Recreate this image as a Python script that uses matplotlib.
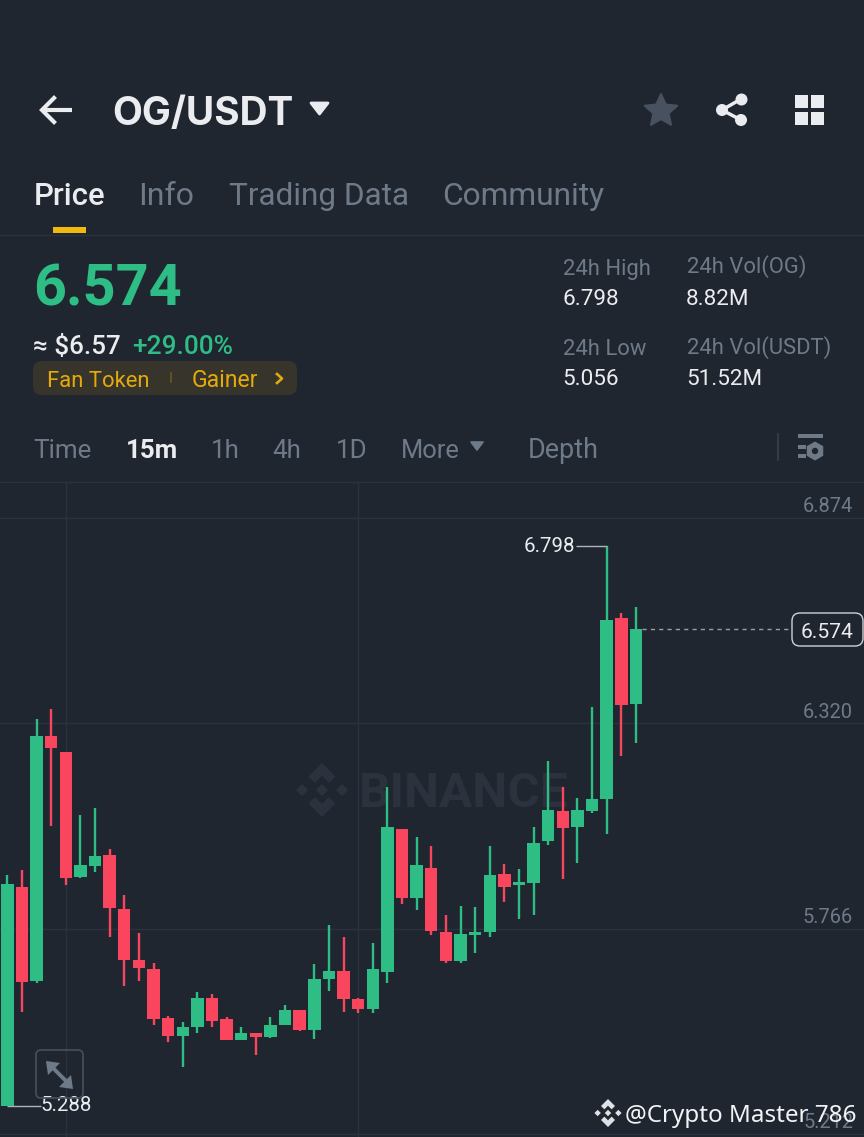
import matplotlib
matplotlib.use("Agg")
import matplotlib.pyplot as plt
from matplotlib.patches import FancyBboxPatch, Polygon, Circle, Rectangle
import numpy as np

# candle values (15m OG/USDT)
opens = [5.288, 5.879, 5.625, 6.286, 6.243, 5.905, 5.935, 5.965, 5.819, 5.681, 5.657, 5.524, 5.476, 5.500, 5.578, 5.522,
         5.466, 5.485, 5.474, 5.507, 5.546, 5.493, 5.629, 5.653, 5.575, 5.549, 5.650, 6.036, 5.848, 5.929, 5.757, 5.680,
         5.748, 5.756, 5.914, 5.883, 5.890, 6.003, 6.083, 6.040, 6.083, 6.116, 6.603, 6.371]
closes = [5.886, 5.621, 6.286, 6.253, 5.903, 5.937, 5.961, 5.821, 5.681, 5.659, 5.521, 5.476, 5.502, 5.578, 5.517, 5.466,
          5.485, 5.474, 5.506, 5.546, 5.493, 5.631, 5.653, 5.575, 5.549, 5.657, 6.040, 5.850, 5.938, 5.760, 5.680, 5.752,
          5.757, 5.910, 5.878, 5.891, 5.997, 6.087, 6.038, 6.087, 6.116, 6.599, 6.370, 6.574]
highs = [5.911, 5.924, 6.331, 6.359, 6.243, 6.073, 6.092, 5.981, 5.856, 5.754, 5.673, 5.530, 5.514, 5.594, 5.589, 5.527,
         5.502, 5.485, 5.528, 5.560, 5.547, 5.671, 5.777, 5.744, 5.578, 5.727, 6.149, 6.036, 6.012, 5.989, 5.803, 5.827,
         5.825, 5.989, 5.940, 5.926, 6.040, 6.218, 6.149, 6.119, 6.363, 6.798, 6.618, 6.634]
lows = [5.288, 5.542, 5.620, 6.043, 5.884, 5.903, 5.919, 5.743, 5.612, 5.624, 5.507, 5.461, 5.394, 5.484, 5.502, 5.465,
        5.466, 5.425, 5.471, 5.507, 5.489, 5.468, 5.599, 5.542, 5.539, 5.538, 5.619, 5.832, 5.816, 5.750, 5.674, 5.674,
        5.700, 5.743, 5.839, 5.791, 5.803, 5.993, 5.899, 5.942, 6.077, 6.021, 6.233, 6.268]
price_ticks = [6.874, 6.320, 5.766, 5.212]
time_grid = [4, 24]
last_price = 6.574

BG = "#1f2630"
GRID = "#2b323d"
GREEN = "#2ebd85"
RED = "#f9455e"
WHITE = "#eaecef"
GRAY = "#6f7a89"
YELLOW = "#e3aa0c"
FONT = "Roboto"


def fs(px):
    return px * 0.72


def logo(ax, cx, cy, s, color):
    top = np.array([(0, 1), (.5, .5), (.26, .26), (0, .52), (-.26, .26), (-.5, .5)])
    for sign in (1, -1):
        ax.add_patch(Polygon(np.c_[cx + top[:, 0] * s, cy - sign * top[:, 1] * s], color=color, lw=0))
    for dx in (-.74, 0, .74):
        pts = np.array([(dx - .23, 0), (dx, .23), (dx + .23, 0), (dx, -.23)])
        ax.add_patch(Polygon(np.c_[cx + pts[:, 0] * s, cy + pts[:, 1] * s], color=color, lw=0))


fig = plt.figure(figsize=(8.64, 11.37), dpi=100, facecolor=BG)

# --- app UI, in pixel coordinates ---
ui = fig.add_axes([0, 0, 1, 1])
ui.set_xlim(0, 864)
ui.set_ylim(1137, 0)
ui.axis("off")


def label(x, y, s, size, color=GRAY, weight="normal", ha="left", family=FONT):
    ui.text(x, y, s, fontsize=fs(size), color=color, fontweight=weight, ha=ha, va="baseline", family=family)


# header
ui.plot([43, 72], [110, 110], color=WHITE, lw=3, solid_capstyle="butt")
ui.plot([54, 42, 54], [98, 110, 122], color=WHITE, lw=3, solid_joinstyle="miter")
label(112, 125, "OG/USDT", 38.8, WHITE, "bold", family="Inter")
ui.add_patch(Polygon([(311, 103), (328, 103), (319.5, 114)], closed=True, fc=WHITE, ec=WHITE, lw=2, joinstyle="round"))

angles = np.pi / 2 + np.arange(10) * np.pi / 5
radii = np.where(np.arange(10) % 2 == 0, 17, 8)
ui.add_patch(Polygon(np.c_[661 + radii * np.cos(angles), 111 - radii * np.sin(angles)], color="#48515f", lw=1.5, joinstyle="round"))

ui.plot([741, 722, 741], [99, 110, 120], color=WHITE, lw=2.5)
for cx, cy in [(741.5, 99.5), (722, 110), (741, 120)]:
    ui.add_patch(Circle((cx, cy), 6, color=WHITE, lw=0))
for x0 in (794.5, 811):
    for y0 in (95, 111.5):
        ui.add_patch(Rectangle((x0, y0), 13, 13, color=WHITE, lw=0))

# tabs
label(34, 205, "Price", 31, WHITE, "medium")
label(138, 205, "Info", 32)
label(229, 205, "Trading Data", 31.5)
label(442, 205, "Community", 31.7)
ui.add_patch(Rectangle((53, 227), 33, 6, color="#f0b90b", lw=0))
ui.plot([0, 864], [234.5, 234.5], color=GRID, lw=1)

# price block
label(33, 306, "6.574", 57.5, GREEN, "bold")
label(33, 354, "≈ $6.57", 26, WHITE, "medium")
label(132, 354, "+29.00%", 26.3, GREEN, "medium")
ui.add_patch(FancyBboxPatch((41, 369), 248, 18, boxstyle="round,pad=8,rounding_size=9", fc="#37342c", ec="none"))
label(47, 387, "Fan Token", 22, YELLOW)
ui.plot([171, 171], [373, 382], color="#6b5a20", lw=1.2)
label(192, 387, "Gainer", 23, YELLOW)
ui.plot([277, 282, 277], [374, 378.5, 383], color=YELLOW, lw=1.9)

# 24h stats
label(563, 275, "24h High", 22)
label(562, 305, "6.798", 22.5, WHITE)
label(687, 273, "24h Vol(OG)", 22)
label(686, 305, "8.82M", 22.5, WHITE)
label(563, 355, "24h Low", 22)
label(562, 385, "5.056", 22.5, WHITE)
label(687, 354, "24h Vol(USDT)", 22)
label(686, 385, "51.52M", 22.5, WHITE)

# interval bar
label(33, 458, "Time", 26)
label(126, 458, "15m", 26, WHITE, "bold")
label(211, 458, "1h", 26)
label(272, 458, "4h", 26)
label(336, 458, "1D", 26)
label(401, 458, "More", 25.5)
ui.add_patch(Polygon([(471, 442), (483, 442), (477, 450)], fc=GRAY, ec=GRAY, lw=1.2, joinstyle="round"))
label(528, 458, "Depth", 27)
ui.plot([778, 778], [434, 460], color="#39414d", lw=1.2)
ui.add_patch(Rectangle((798, 434), 25, 4, color=GRAY, lw=0))
ui.add_patch(Rectangle((798, 445), 8, 4, color=GRAY, lw=0))
ui.add_patch(Rectangle((798, 454), 8, 4, color=GRAY, lw=0))
hexa = np.arange(6) * np.pi / 3 + np.pi / 6
ui.add_patch(Polygon(np.c_[815 + 9.5 * np.cos(hexa), 451 + 9.5 * np.sin(hexa)], color=GRAY, lw=0))
ui.add_patch(Circle((815, 451), 3.2, color=BG, lw=0))
ui.plot([0, 864], [481.5, 481.5], color=GRID, lw=1)

# chart watermark sits under the candles
logo(ui, 322, 790, 27, GRID)
label(359, 807, "BINANCE", 49.5, GRID, "bold")

# --- candles, in index / price coordinates ---
ax = fig.add_axes([0, 0, 1, (1137 - 482) / 1137])
ax.patch.set_alpha(0)
ax.set_xlim(-0.501, 58.6)
ax.set_ylim(5.204, 6.971)
for side in ax.spines.values():
    side.set_visible(False)
ax.tick_params(length=0, labelbottom=False, labelleft=False)
ax.set_xticks(time_grid)
ax.set_yticks(price_ticks)
ax.grid(True, color=GRID, lw=1)
ax.set_axisbelow(True)

idx = np.arange(len(opens))
o, c, h, l = map(np.array, (opens, closes, highs, lows))
colors = [GREEN if b >= a else RED for a, b in zip(o, c)]
ax.vlines(idx, l, h, colors=colors, lw=1.7, zorder=2)
ax.bar(idx, np.abs(c - o), bottom=np.minimum(o, c), width=0.85, color=colors, zorder=3)

for p in price_ticks:
    ax.annotate(f"{p:.3f}", (1, p), xycoords=("axes fraction", "data"), xytext=(-8, 1.2), textcoords="offset points",
                ha="right", va="bottom", fontsize=fs(20), color=GRAY, family=FONT)

# high / low markers
hi = int(np.argmax(h))
lo = int(np.argmin(l))
ax.hlines(h[hi], hi - 2.07, hi, color="#aeb4bc", lw=1, zorder=2)
ax.annotate(f"{h[hi]:.3f}", (hi - 2.15, h[hi]), ha="right", va="center", fontsize=fs(20.5), color=WHITE, family=FONT)
ax.hlines(l[lo], lo, lo + 2.3, color="#aeb4bc", lw=1, zorder=2)
ax.annotate(f"{l[lo]:.3f}", (lo + 2.25, l[lo]), ha="left", va="center", fontsize=fs(20.5), color=WHITE, family=FONT)

# last price
ax.hlines(last_price, idx[-1] + 0.4, 53.5, color="#9aa0a8", lw=1, linestyles=(0, (3, 3)), zorder=2)

# --- things on top of the chart ---
top = fig.add_axes([0, 0, 1, 1])
top.patch.set_alpha(0)
top.set_xlim(0, 864)
top.set_ylim(1137, 0)
top.axis("off")

top.add_patch(FancyBboxPatch((799, 620), 57, 19, boxstyle="round,pad=7,rounding_size=8", fc=BG, ec="#cfd2d6", lw=1))
top.text(827.5, 637.5, f"{last_price:.3f}", fontsize=fs(21), color=WHITE, ha="center", va="baseline", family=FONT)

top.add_patch(FancyBboxPatch((40, 1054), 39, 40, boxstyle="round,pad=4,rounding_size=5", fc="none", ec="#474f5c", lw=1.2))
top.plot([52, 68], [1067, 1083], color=GRAY, lw=2.8)
top.add_patch(Polygon([(46, 1061), (60, 1063), (48, 1075)], color=GRAY, lw=0))
top.add_patch(Polygon([(73, 1089), (59, 1087), (71, 1075)], color=GRAY, lw=0))

logo(top, 608, 1113, 14, "#dfe1e4")
top.text(625, 1122, "@Crypto Master 786", fontsize=fs(24.2), color="#f2f3f4", ha="left", va="baseline", family="Noto Sans")

fig.savefig("out.png", dpi=100, facecolor=BG)
